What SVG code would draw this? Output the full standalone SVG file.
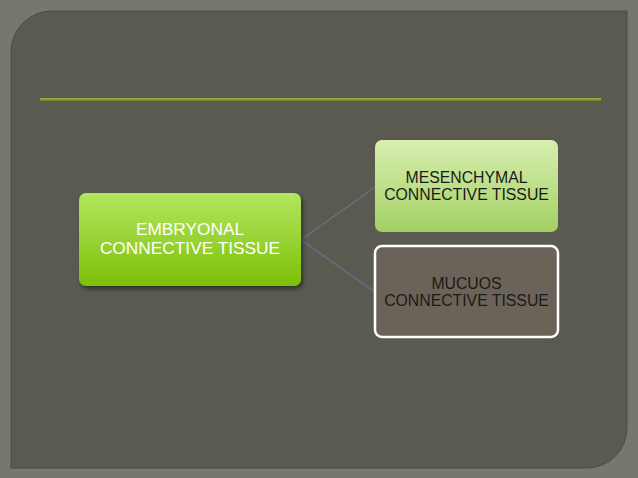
<svg xmlns="http://www.w3.org/2000/svg" width="638" height="478" viewBox="0 0 638 478">
<defs>
<linearGradient id="gE" x1="0" y1="0" x2="0" y2="1"><stop offset="0" stop-color="#b2e65c"/><stop offset="1" stop-color="#7dc00a"/></linearGradient>
<linearGradient id="gM" x1="0" y1="0" x2="0" y2="1"><stop offset="0" stop-color="#d8efb0"/><stop offset="1" stop-color="#a3d063"/></linearGradient>
<linearGradient id="gL" x1="0" y1="0" x2="0" y2="1"><stop offset="0" stop-color="#a6b64e"/><stop offset="1" stop-color="#6f7d2a"/></linearGradient>
<filter id="sh" x="-10%" y="-10%" width="130%" height="130%"><feDropShadow dx="2" dy="3" stdDeviation="2" flood-color="#000" flood-opacity="0.45"/></filter>
</defs>
<style>
.t{font-family:"Liberation Sans",Arial,sans-serif;font-size:15.8px;text-anchor:middle}
.big{font-size:17.3px}
.w{fill:#ffffff}.d{fill:#1a1a1a}
.c{stroke:#5d7484;stroke-width:1.5;fill:none}
</style>
<rect width="638" height="478" fill="#77776d"/>
<path d="M52,11 H627 V428 A40,40 0 0 1 587,468 H11 V52 A41,41 0 0 1 52,11 Z" fill="#5a5a51" stroke="#4c4c44" stroke-width="1"/>
<rect x="40" y="98" width="561" height="3" fill="url(#gL)"/>
<g id="connectors">
<line class="c" x1="301" y1="240" x2="375" y2="187"/>
<line class="c" x1="301" y1="240" x2="375" y2="292"/>
</g>
<g id="embryonal">
<rect x="79" y="193" width="222" height="93" rx="7" fill="url(#gE)" filter="url(#sh)"/>
<text class="t big w" x="190" y="235">EMBRYONAL</text>
<text class="t big w" x="190" y="254">CONNECTIVE TISSUE</text>
</g>
<g id="mesenchymal">
<rect x="375" y="140" width="183" height="92" rx="7" fill="url(#gM)"/>
<text class="t d" x="466.5" y="183">MESENCHYMAL</text>
<text class="t d" x="466.5" y="199.5">CONNECTIVE TISSUE</text>
</g>
<g id="mucuos">
<rect x="375" y="246" width="183" height="91" rx="7" fill="#6c6358" stroke="#ffffff" stroke-width="2.5"/>
<text class="t d" x="466.5" y="288.5">MUCUOS</text>
<text class="t d" x="466.5" y="305.5">CONNECTIVE TISSUE</text>
</g>
</svg>
